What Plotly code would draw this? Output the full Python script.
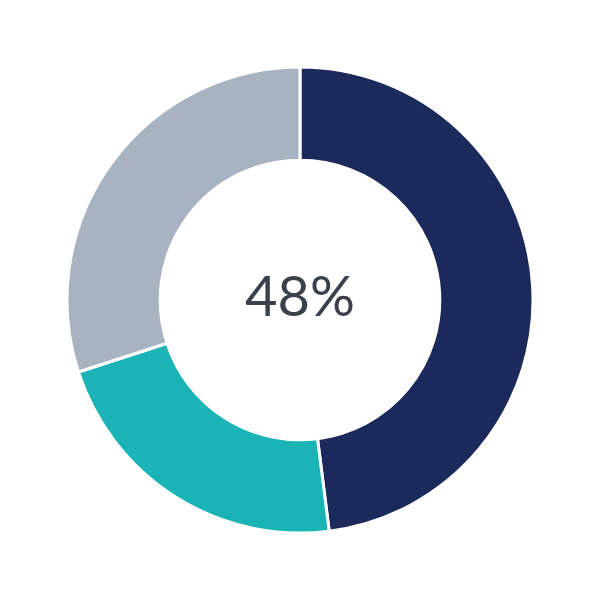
import plotly.graph_objects as go

labels = ["A", "B", "C"]
values = [48, 22, 30]
colors = ["#1b2a5b", "#1ab4b7", "#a8b3c2"]

fig = go.Figure(
    go.Pie(
        labels=labels,
        values=values,
        hole=0.6,
        sort=False,
        direction="clockwise",
        rotation=0,
        marker=dict(colors=colors, line=dict(color="white", width=3)),
        textinfo="none",
        hoverinfo="label+percent",
    )
)

# la página añade 8px de margen, se compensa aquí
fig.update_layout(
    width=600,
    height=600,
    showlegend=False,
    paper_bgcolor="white",
    margin=dict(l=59, r=75, t=59, b=75),
    annotations=[
        dict(
            text=f"{values[0]}%",
            x=0.5,
            y=0.5,
            xref="paper",
            yref="paper",
            yshift=6,
            showarrow=False,
            font=dict(family="Lato", size=56, color="#3b414b"),
        )
    ],
)

fig.write_html("out.html")
